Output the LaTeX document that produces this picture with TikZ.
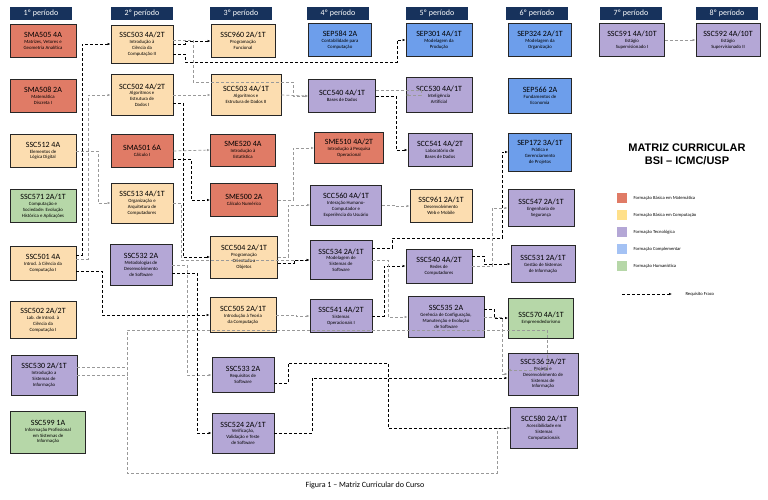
\documentclass[tikz,border=0pt]{standalone}
\usepackage{fontspec}
\setmainfont{Carlito}
\newfontfamily\hsans{Liberation Sans}
\usetikzlibrary{arrows.meta}
\definecolor{cR}{HTML}{E07B66}
\definecolor{cO}{HTML}{FCDDB0}
\definecolor{cP}{HTML}{B4A7D6}
\definecolor{cB}{HTML}{6D9EEB}
\definecolor{cG}{HTML}{B6D7A8}
\definecolor{cY}{HTML}{FFE08A}
\definecolor{cLB}{HTML}{A4C2F4}
\definecolor{navy}{HTML}{17325C}
\begin{document}
\begin{tikzpicture}[x=1pt,y=-1pt,
 box/.style={draw=black!85,line width=0.9pt,align=center,inner sep=1pt,font=\fontsize{4.8}{5.8}\selectfont},
 hd/.style={fill=navy,text=white,minimum width=62pt,minimum height=13pt,inner sep=0pt,font=\fontsize{8}{9}\selectfont},
 sr/.style={densely dashed,line width=0.7pt,-{Latex[length=3pt,width=2.5pt]}},
 wk/.style={densely dashed,line width=0.7pt,black!40,-{Latex[length=3pt,width=2.5pt]}},
 lg/.style={font=\fontsize{4.6}{5.6}\selectfont,anchor=west}]
\useasboundingbox (0,0) rectangle (768,499);
\def\tt#1{{\fontsize{8}{9.5}\selectfont #1}}
% headers
\foreach \x/\n [count=\i] in {41/1,142/2,241/3,338/4,437/5,537/6,631/7,727/8}
 \node[hd] (h\i) at (\x,13.5) {{\n}º período};
% column 1
\node[box,fill=cR,minimum width=66pt,minimum height=33pt] (a1) at (43,41) {\tt{SMA505 4A}\\Matrizes, Vetores e\\Geometria Analítica};
\node[box,fill=cR,minimum width=66pt,minimum height=33pt] (a2) at (43,96) {\tt{SMA508 2A}\\Matemática\\Discreta I};
\node[box,fill=cO,minimum width=66pt,minimum height=33pt] (a3) at (43,151) {\tt{SSC512 4A}\\Elementos de\\Lógica Digital};
\node[box,fill=cG,minimum width=66pt,minimum height=33pt] (a4) at (43,206) {\tt{SSC571 2A/1T}\\Computação e\\Sociedade: Evolução\\Histórica e Aplicações};
\node[box,fill=cO,minimum width=66pt,minimum height=34pt] (a5) at (43,263) {\tt{SSC501 4A}\\Introd. à Ciência da\\Computação I};
\node[box,fill=cO,minimum width=66pt,minimum height=37pt] (a6) at (43,320) {\tt{SSC502 2A/2T}\\Lab. de Introd. à\\Ciência da\\Computação I};
\node[box,fill=cP,minimum width=66pt,minimum height=40pt] (a7) at (44,375) {\tt{SSC530 2A/1T}\\Introdução a\\Sistemas de\\Informação};
\node[box,fill=cG,minimum width=75pt,minimum height=42pt] (a8) at (48,432) {\tt{SSC599 1A}\\Informação Profissional\\em Sistemas de\\Informação};
% column 2
\node[box,fill=cO,minimum width=62pt,minimum height=38pt] (b1) at (142,44) {\tt{SSC503 4A/2T}\\Introdução à\\Ciência da\\Computação II};
\node[box,fill=cO,minimum width=62pt,minimum height=41pt] (b2) at (142,95) {\tt{SCC502 4A/2T}\\Algoritmos e\\Estrutura de\\Dados I};
\node[box,fill=cR,minimum width=62pt,minimum height=33pt] (b3) at (142,151) {\tt{SMA501 6A}\\Cálculo I};
\node[box,fill=cO,minimum width=62pt,minimum height=40pt] (b4) at (142,203) {\tt{SSC513 4A/1T}\\Organização e\\Arquitetura de\\Computadores};
\node[box,fill=cP,minimum width=62pt,minimum height=41pt] (b5) at (141,265) {\tt{SSC532 2A}\\Metodologias de\\Desenvolvimento\\de Software};
% column 3
\node[box,fill=cO,minimum width=64pt,minimum height=33pt] (c1) at (243,41) {\tt{SSC960 2A/1T}\\Programação\\Funcional};
\node[box,fill=cO,minimum width=70pt,minimum height=41pt] (c2) at (246,95) {\tt{SCC503 4A/1T}\\Algoritmos e\\Estrutura de Dados II};
\node[box,fill=cR,minimum width=65pt,minimum height=32pt] (c3) at (243,150) {\tt{SME520 4A}\\Introdução à\\Estatística};
\node[box,fill=cR,minimum width=67pt,minimum height=33pt] (c4) at (244,200) {\tt{SME500 2A}\\Cálculo Numérico};
\node[box,fill=cO,minimum width=67pt,minimum height=42pt] (c5) at (244,257) {\tt{SCC504 2A/1T}\\Programação\\Orientada a\\Objetos};
\node[box,fill=cO,minimum width=66pt,minimum height=35pt] (c6) at (243,315) {\tt{SCC505 2A/1T}\\Introdução à Teoria\\da Computação};
\node[box,fill=cP,minimum width=62pt,minimum height=35pt] (c7) at (243,375) {\tt{SSC533 2A}\\Requisitos de\\Software};
\node[box,fill=cP,minimum width=62pt,minimum height=40pt] (c8) at (243,433) {\tt{SSC524 2A/1T}\\Verificação,\\Validação e Teste\\de Software};
% column 4
\node[box,fill=cB,minimum width=63pt,minimum height=33pt] (d1) at (340,40) {\tt{SEP584 2A}\\Contabilidade para\\Computação};
\node[box,fill=cP,minimum width=67pt,minimum height=33pt] (d2) at (342,96) {\tt{SCC540 4A/1T}\\Bases de Dados};
\node[box,fill=cR,minimum width=69pt,minimum height=31pt] (d3) at (349,148) {\tt{SME510 4A/2T}\\Introdução à Pesquisa\\Operacional};
\node[box,fill=cP,minimum width=71pt,minimum height=40pt] (d4) at (346,205) {\tt{SCC560 4A/1T}\\Interação Humano-\\Computador e\\Experiência do Usuário};
\node[box,fill=cP,minimum width=62pt,minimum height=39pt] (d5) at (341,260) {\tt{SSC534 2A/1T}\\Modelagem de\\Sistemas de\\Software};
\node[box,fill=cP,minimum width=62pt,minimum height=33pt] (d6) at (341,316) {\tt{SSC541 4A/2T}\\Sistemas\\Operacionais I};
% column 5
\node[box,fill=cB,minimum width=66pt,minimum height=33pt] (e1) at (439,40) {\tt{SEP301 4A/1T}\\Modelagem da\\Produção};
\node[box,fill=cP,minimum width=66pt,minimum height=35pt] (e2) at (439,95) {\tt{SCC530 4A/1T}\\Inteligência\\Artificial};
\node[box,fill=cP,minimum width=64pt,minimum height=33pt] (e3) at (440,150) {\tt{SCC541 4A/2T}\\Laboratório de\\Bases de Dados};
\node[box,fill=cO,minimum width=62pt,minimum height=33pt] (e4) at (441,206) {\tt{SSC961 2A/1T}\\Desenvolvimento\\Web e Mobile};
\node[box,fill=cP,minimum width=66pt,minimum height=34pt] (e5) at (439,266) {\tt{SSC540 4A/2T}\\Redes de\\Computadores};
\node[box,fill=cP,minimum width=76pt,minimum height=41pt] (e6) at (446,317) {\tt{SSC535 2A}\\Gerência de Configuração,\\Manutenção e Evolução\\de Software};
% column 6
\node[box,fill=cB,minimum width=63pt,minimum height=33pt] (f1) at (540,40) {\tt{SEP324 2A/1T}\\Modelagem da\\Organização};
\node[box,fill=cB,minimum width=63pt,minimum height=35pt] (f2) at (540,96) {\tt{SEP566 2A}\\Fundamentos de\\Economia};
\node[box,fill=cB,minimum width=63pt,minimum height=38pt] (f3) at (540,152) {\tt{SEP172 3A/1T}\\Prática e\\Gerenciamento\\de Projetos};
\node[box,fill=cP,minimum width=66pt,minimum height=37pt] (f4) at (541,208) {\tt{SSC547 2A/1T}\\Engenharia de\\Segurança};
\node[box,fill=cP,minimum width=64pt,minimum height=37pt] (f5) at (543,264) {\tt{SSC531 2A/1T}\\Gestão de Sistemas\\de Informação};
\node[box,fill=cG,minimum width=65pt,minimum height=40pt] (f6) at (541,318) {\tt{SSC570 4A/1T}\\Empreendedorismo};
\node[box,fill=cP,minimum width=70pt,minimum height=42pt] (f7) at (543,374) {\tt{SSC536 2A/2T}\\Projeto e\\Desenvolvimento de\\Sistemas de\\Informação};
\node[box,fill=cP,minimum width=67pt,minimum height=41pt] (f8) at (544,428) {\tt{SCC580 2A/1T}\\Acessibilidade em\\Sistemas\\Computacionais};
% columns 7, 8
\node[box,fill=cP,minimum width=65pt,minimum height=33pt] (g1) at (632,40) {\tt{SSC591 4A/10T}\\Estágio\\Supervisionado I};
\node[box,fill=cP,minimum width=64pt,minimum height=33pt] (g2) at (728,40) {\tt{SSC592 4A/10T}\\Estágio\\Supervisionado II};
% title and legend
\node[font=\hsans\bfseries\fontsize{11}{13}\selectfont,align=center] (title) at (687,154) {MATRIZ CURRICULAR\\BSI – ICMC/USP};
\foreach \c/\t/\y [count=\i] in {cR/Formação Básica em Matemática/198,cY/Formação Básica em Computação/215,cP/Formação Tecnológica/232,cLB/Formação Complementar/249,cG/Formação Humanística/266}{
 \node[fill=\c,minimum size=10pt,inner sep=0pt] (l\i) at (622,\y) {};
 \node[lg] (lt\i) at (630,\y) {\t};}
\coordinate (ls) at (622,294);
\node[lg] (lr) at (682,294) {Requisito Fraco};
\draw[sr] (ls) -- (672,294);
% connectors
\draw[sr] (a5.east) ++(0,-8) -- ++(6,0) |- (b1.west);
\draw[wk] (a5.east) ++(0,-4) -- ++(12,0) |- (b2.west);
\draw[wk] (a3.east) -- ++(22,0) |- (b4.west);
\draw[sr] (a5.east) ++(0,8) -- ++(26,0) |- (c6.west);
\draw[sr] (b1.east) -- ++(12,0) |- (c1.west);
\draw[wk] (b1.east) ++(0,-4) -- ++(20,0) -- ++(0,42) -- ++(100,0) |- (d2.west);
\draw[sr] (b1.east) ++(0,10) -- ++(12,0) -- ++(0,8) -- ++(212,0) |- (e1.west);
\draw[wk] (b2.east) -- (c2.west);
\draw[sr] (b2.east) ++(0,8) -- ++(10,0) |- (c5.west);
\draw[wk] (b3.east) -- (c3.west);
\draw[sr] (b3.east) ++(0,8) -- ++(18,0) |- (c4.west);
\draw[wk] (c2.east) -- (d2.west);
\draw[sr] (d2.east) -- ++(20,0) |- (e3.west);
\draw[wk] (d2.east) ++(0,-6) -- ++(45,0) |- (e2.west);
\draw[wk] (c4.east) -- ++(15,0) |- (d3.west);
\draw[wk] (b4.east) -- ++(8,0) |- (d5.west);
\draw[wk] (b5.east) -- ++(15,0) |- (c7.west);
\draw[sr] (b5.east) ++(0,8) -- ++(25,0) |- (c8.west);
\draw[wk] (c5.east) -- ++(10,0) |- (d4.west);
\draw[sr] (c5.east) ++(0,6) -- ++(16,0) |- (d5.west);
\draw[wk] (c6.east) -- ++(20,0) |- (d6.west);
\draw[wk] (d4.east) -- ++(12,0) |- (e4.west);
\draw[sr] (d6.east) -- ++(12,0) |- (e5.west);
\draw[wk] (d5.east) -- ++(16,0) |- (e6.west);
\draw[sr] (d5.east) ++(0,-12) -- ++(20,0) -- ++(0,-10) -- ++(110,0) |- (f3.west);
\draw[sr] (e5.east) ++(0,-10) -- ++(12,0) |- (f5.west);
\draw[wk] (e5.east) -- ++(20,0) |- (f4.west);
\draw[sr] (e6.east) ++(0,-8) -- ++(10,0) |- (f6.west);
\draw[wk] (e6.east) -- ++(18,0) |- (f7.west);
\draw[sr] (c7.east) ++(0,8) -- ++(14,0) -- ++(0,-20) -- ++(100,0) |- (f8.west);
\draw[wk] (a7.east) -- ++(50,0) -- ++(0,-45) -- ++(420,0) |- ([yshift=4pt]f7.west);
\draw[sr] (c8.east) -- ++(38,0) |- ([yshift=-4pt]f7.west);
\draw[wk] (a7.east) ++(0,-8) -- ++(50,0) |- ++(0,106) -- ++(370,0) |- (f8.west);
\draw[wk] (g1.east) -- (g2.west);
% caption
\node[font=\fontsize{8}{9}\selectfont] (cap) at (365,485) {Figura 1 – Matriz Curricular do Curso};
\end{tikzpicture}
\end{document}
